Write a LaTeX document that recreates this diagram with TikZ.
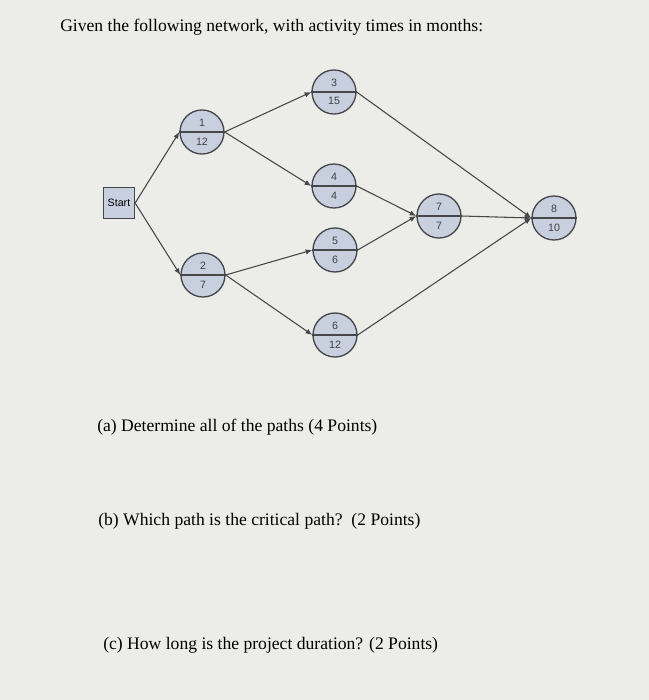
\documentclass[tikz,border=0pt]{standalone}
\usepackage{fontspec}
\setmainfont{Liberation Serif}
\newfontfamily\nodefont{Liberation Sans}
\usetikzlibrary{arrows.meta}
\definecolor{bg}{RGB}{236,236,232}
\definecolor{nodefill}{RGB}{200,208,224}
\definecolor{edge}{RGB}{70,70,75}
\tikzset{
  act/.style={circle,draw=edge,line width=1pt,fill=nodefill,minimum size=33pt,inner sep=0pt},
  conn/.style={draw=edge,line width=0.8pt,-{Latex[length=5pt,width=4pt]}},
  qtext/.style={anchor=west,font=\fontsize{13.2}{15}\selectfont,inner sep=0pt},
}
\newcommand{\actnode}[4]{%
  \node[act] (#1) at (#2) {};
  \draw[edge,line width=1pt] (#1.west) -- (#1.east);
  \node[font=\nodefont\fontsize{8}{9}\selectfont,text=black!75] at ([yshift=7pt]#1.center) {#3};
  \node[font=\nodefont\fontsize{8}{9}\selectfont,text=black!75] at ([yshift=-7pt]#1.center) {#4};
}
\begin{document}
\begin{tikzpicture}[x=0.75pt,y=-0.75pt]
\fill[bg] (0,0) rectangle (649,700);
\useasboundingbox (0,0) rectangle (649,700);
\node[qtext] (title) at (60,27) {Given the following network, with activity times in months:};
\node[draw=edge,line width=1.2pt,fill=nodefill,minimum width=23pt,minimum height=23pt,inner sep=0pt,font=\nodefont\fontsize{8}{9}\selectfont] (start) at (119,203) {Start};
\actnode{n1}{202,132}{1}{12}
\actnode{n2}{203,275}{2}{7}
\actnode{n3}{334,92}{3}{15}
\actnode{n4}{334,186}{4}{4}
\actnode{n5}{335,250}{5}{6}
\actnode{n6}{335,335}{6}{12}
\actnode{n7}{439,216}{7}{7}
\actnode{n8}{554,218}{8}{10}
\draw[conn] (start.east) -- (n1.west);
\draw[conn] (start.east) -- (n2.west);
\draw[conn] (n1.east) -- (n3.west);
\draw[conn] (n1.east) -- (n4.west);
\draw[conn] (n2.east) -- (n5.west);
\draw[conn] (n2.east) -- (n6.west);
\draw[conn] (n4.east) -- (n7.west);
\draw[conn] (n5.east) -- (n7.west);
\draw[conn] (n3.east) -- (n8.west);
\draw[conn] (n7.east) -- (n8.west);
\draw[conn] (n6.east) -- (n8.west);
\node[qtext] (qa) at (97,427) {(a) Determine all of the paths (4 Points)};
\node[qtext] (qb) at (98,521) {(b) Which path is the critical path?\ \ (2 Points)};
\node[qtext] (qc) at (103,645) {(c) How long is the project duration? (2 Points)};
\end{tikzpicture}
\end{document}
